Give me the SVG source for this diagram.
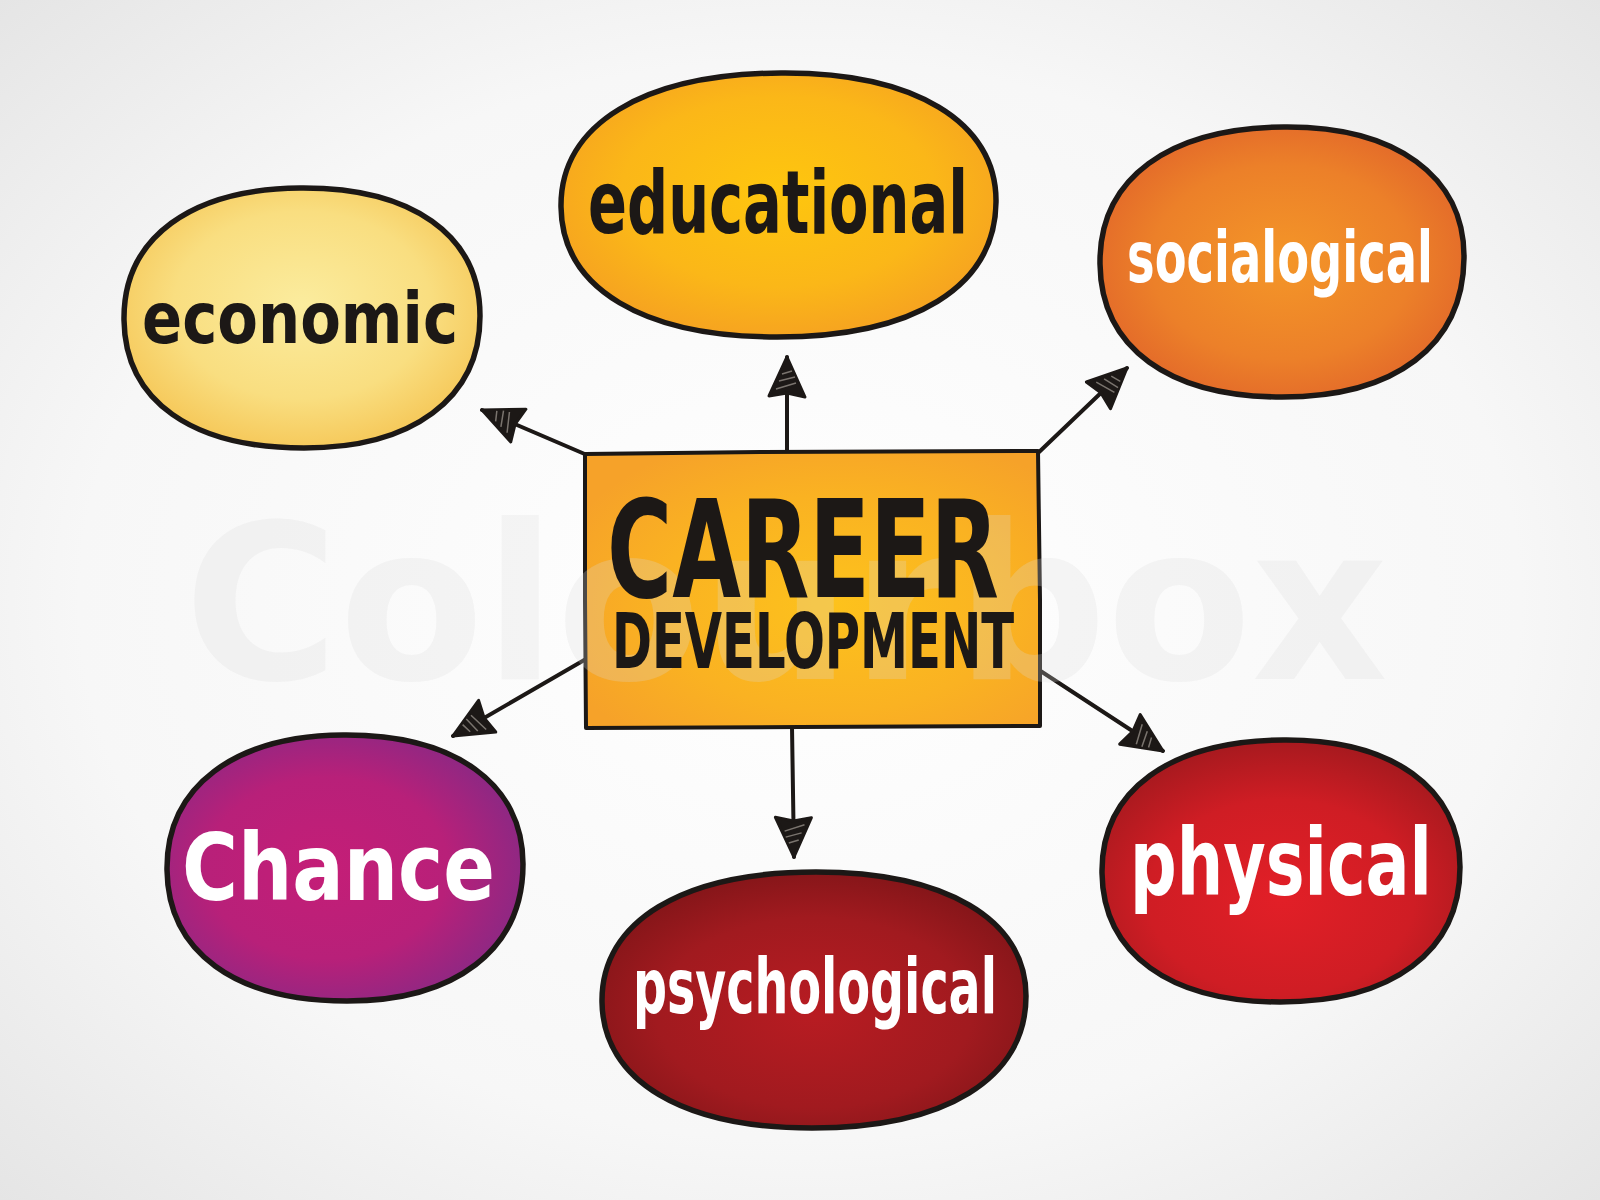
<svg xmlns="http://www.w3.org/2000/svg" width="1600" height="1200" viewBox="0 0 1600 1200">
<style>
.outline{stroke:#1c1816;stroke-width:5.5;stroke-linejoin:round}
.lbl{font-family:"DejaVu Sans","Liberation Sans",sans-serif;font-weight:bold}
.dark{fill:#1c1816}
.light{fill:#ffffff}
.conn{stroke:#1c1816;stroke-width:4;fill:none;stroke-linecap:round;marker-end:url(#head)}
</style>
<defs>
<radialGradient id="bg" cx="50%" cy="50%" r="75%">
<stop offset="0" stop-color="#ffffff"/><stop offset="0.6" stop-color="#f7f7f7"/><stop offset="1" stop-color="#e2e2e2"/>
</radialGradient>
<radialGradient id="gEco" cx="50%" cy="45%" r="60%"><stop offset="0" stop-color="#fbec9e"/><stop offset="0.6" stop-color="#f9de80"/><stop offset="1" stop-color="#f5c452"/></radialGradient>
<radialGradient id="gEdu" cx="50%" cy="45%" r="60%"><stop offset="0" stop-color="#fec60e"/><stop offset="0.6" stop-color="#fbb718"/><stop offset="1" stop-color="#f59f22"/></radialGradient>
<radialGradient id="gSoc" cx="50%" cy="50%" r="60%"><stop offset="0" stop-color="#f49628"/><stop offset="0.6" stop-color="#ec8029"/><stop offset="1" stop-color="#e0622a"/></radialGradient>
<radialGradient id="gCha" cx="45%" cy="50%" r="62%"><stop offset="0" stop-color="#c41e77"/><stop offset="0.55" stop-color="#b82079"/><stop offset="1" stop-color="#822a86"/></radialGradient>
<radialGradient id="gPsy" cx="50%" cy="55%" r="62%"><stop offset="0" stop-color="#b81c22"/><stop offset="0.6" stop-color="#a11a1f"/><stop offset="1" stop-color="#7c1417"/></radialGradient>
<radialGradient id="gPhy" cx="50%" cy="60%" r="62%"><stop offset="0" stop-color="#e21f27"/><stop offset="0.6" stop-color="#cf1d24"/><stop offset="1" stop-color="#a3191e"/></radialGradient>
<radialGradient id="gBox" cx="55%" cy="55%" r="65%"><stop offset="0" stop-color="#fdc21c"/><stop offset="0.6" stop-color="#fab222"/><stop offset="1" stop-color="#f6a229"/></radialGradient>
<marker id="head" viewBox="0 0 46 42" refX="43" refY="21" markerWidth="46" markerHeight="42" markerUnits="userSpaceOnUse" orient="auto">
<path d="M43,21 L4,3 L7,21 L3,39 Z" fill="#1c1816" stroke="#1c1816" stroke-width="3" stroke-linejoin="round"/>
<path d="M11,10 L17,30 M19,13 L23,29 M26,16 L29,26" stroke="#7a746e" stroke-width="1.5" fill="none"/>
</marker>
</defs>
<rect width="1600" height="1200" fill="url(#bg)"/>
<g id="connectors">
<line class="conn" x1="787" y1="452" x2="787" y2="357"/>
<line class="conn" x1="587" y1="455" x2="482" y2="410"/>
<line class="conn" x1="1037" y1="454" x2="1127" y2="368"/>
<line class="conn" x1="586" y1="659" x2="453" y2="736"/>
<line class="conn" x1="792" y1="727" x2="794" y2="857"/>
<line class="conn" x1="1039" y1="670" x2="1163" y2="751"/>
</g>
<g id="node-economic">
<path class="outline" fill="url(#gEco)" d="M124,320 C123,237 192,189 300,188 C412,187 480,235 480,316 C480,399 412,448 304,448 C192,448 125,401 124,320 Z"/>
<text class="lbl dark" x="142" y="343" font-size="72" textLength="316" lengthAdjust="spacingAndGlyphs">economic</text>
</g>
<g id="node-educational">
<path class="outline" fill="url(#gEdu)" d="M561,207 C560,124 644,74 781,73 C914,72 997,122 996,202 C995,287 914,337 777,337 C644,337 562,289 561,207 Z"/>
<text class="lbl dark" x="588" y="233" font-size="88" textLength="380" lengthAdjust="spacingAndGlyphs">educational</text>
</g>
<g id="node-socialogical">
<path class="outline" fill="url(#gSoc)" d="M1100,264 C1099,178 1169,128 1284,127 C1395,126 1465,176 1464,258 C1463,346 1395,397 1282,397 C1169,397 1101,348 1100,264 Z"/>
<text class="lbl light" x="1127" y="282" font-size="72" textLength="306" lengthAdjust="spacingAndGlyphs">socialogical</text>
</g>
<g id="node-chance">
<path class="outline" fill="url(#gCha)" d="M167,870 C166,786 235,736 343,735 C455,734 523,784 523,864 C523,950 455,1001 347,1001 C235,1001 168,952 167,870 Z"/>
<text class="lbl light" x="182" y="900" font-size="92" textLength="313" lengthAdjust="spacingAndGlyphs">Chance</text>
</g>
<g id="node-psychological">
<path class="outline" fill="url(#gPsy)" d="M602,1002 C601,921 683,872 816,872 C945,872 1026,919 1026,996 C1026,1079 945,1128 812,1128 C683,1128 603,1081 602,1002 Z"/>
<text class="lbl light" x="633" y="1013" font-size="76" textLength="364" lengthAdjust="spacingAndGlyphs">psychological</text>
</g>
<g id="node-physical">
<path class="outline" fill="url(#gPhy)" d="M1102,873 C1101,790 1170,741 1283,740 C1392,739 1460,788 1460,867 C1460,952 1392,1002 1280,1002 C1170,1002 1103,954 1102,873 Z"/>
<text class="lbl light" x="1130" y="895" font-size="92" textLength="302" lengthAdjust="spacingAndGlyphs">physical</text>
</g>
<g id="node-center">
<path fill="url(#gBox)" stroke="#1c1816" stroke-width="4" stroke-linejoin="round" d="M585,454 L760,452 L1038,451 L1040,600 L1040,726 L800,727 L586,728 L585,600 Z"/>
<text id="watermark" x="184" y="679" font-family="DejaVu Sans, Liberation Sans, sans-serif" font-weight="bold" font-size="215" fill="#dcdcdc" fill-opacity="0.25" textLength="1204" lengthAdjust="spacingAndGlyphs">Colourbox</text>
<text class="lbl dark" x="607" y="597" font-size="135" textLength="392" lengthAdjust="spacingAndGlyphs">CAREER</text>
<text class="lbl dark" x="612" y="668" font-size="76" textLength="402" lengthAdjust="spacingAndGlyphs">DEVELOPMENT</text>
</g>
</svg>
